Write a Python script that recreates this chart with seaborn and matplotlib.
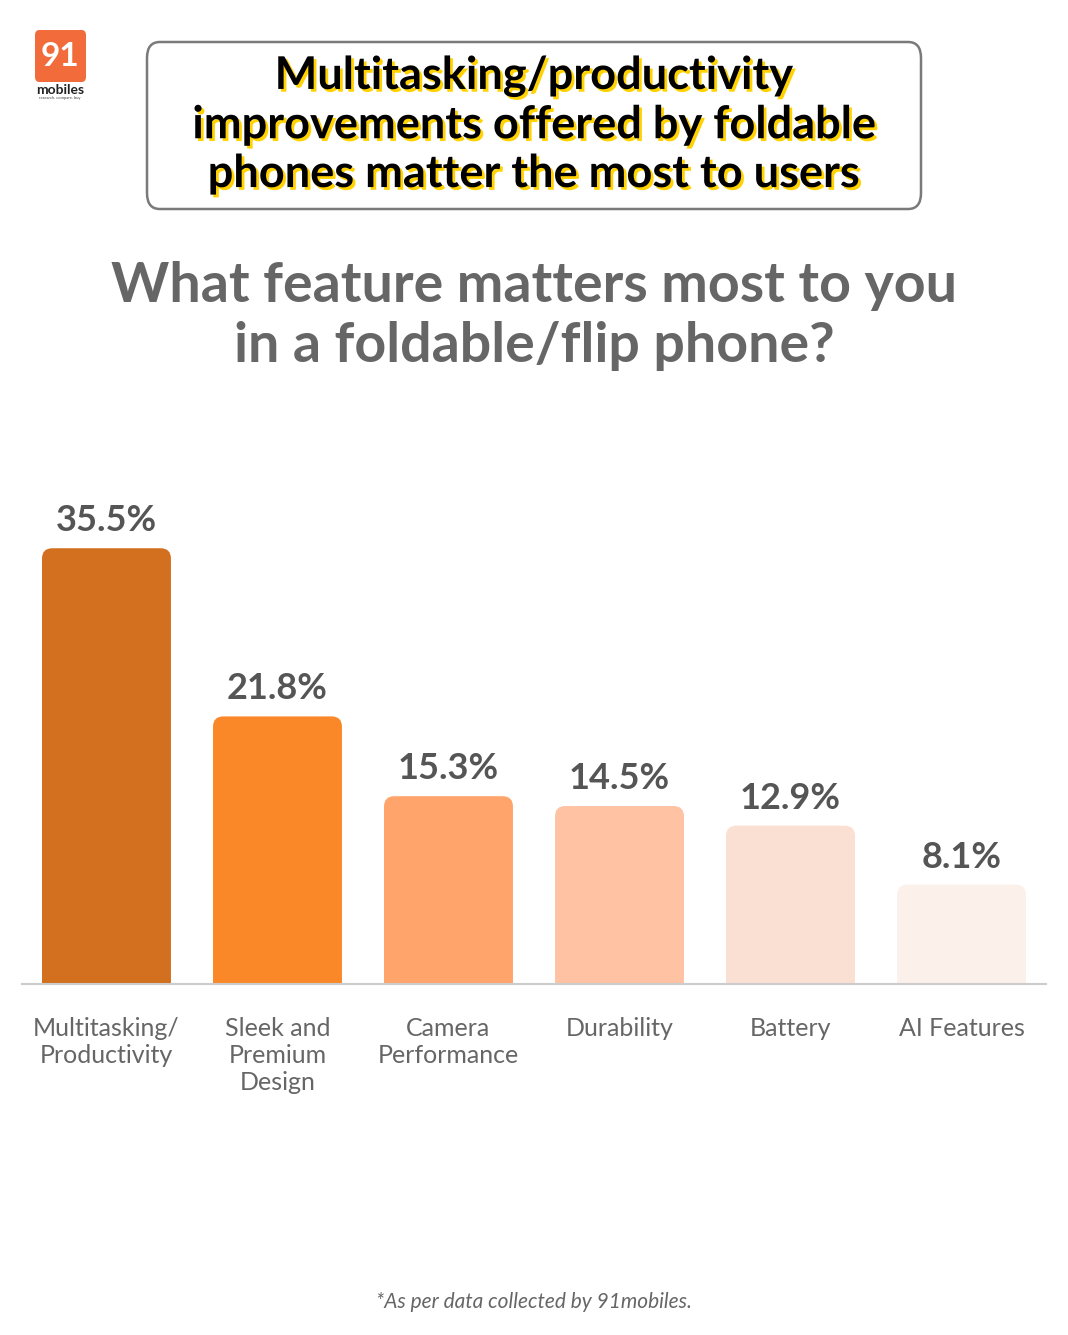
import matplotlib
matplotlib.use("Agg")
import matplotlib.pyplot as plt
import matplotlib.patheffects as pe
from matplotlib.patches import FancyBboxPatch
import seaborn as sns

# data
categories = ["Multitasking/\nProductivity", "Sleek and\nPremium\nDesign", "Camera\nPerformance",
              "Durability", "Battery", "AI Features"]
values = [35.5, 21.8, 15.3, 14.5, 12.9, 8.1]
bar_colors = ["#D2701F", "#FA8828", "#FFA46B", "#FFC2A3", "#FADFD3", "#FCF0EB"]

title = "Multitasking/productivity\nimprovements offered by foldable\nphones matter the most to users"
subtitle = "What feature matters most to you\nin a foldable/flip phone?"
footnote = "*As per data collected by 91mobiles."

sns.set_style("white")
plt.rcParams["font.family"] = ["Lato", "DejaVu Sans"]

fig = plt.figure(figsize=(10.68, 13.35), dpi=100)
ax = fig.add_axes([22 / 1068, (1335 - 984) / 1335, 1024 / 1068, 491 / 1335])

sns.barplot(x=categories, y=values, hue=categories, palette=bar_colors, legend=False,
            width=0.754, ax=ax, saturation=1)
ax.set_xlim(-0.494, 5.494)
ax.set_ylim(0, 40)

# rounded tops: replace the seaborn rectangles with rounded boxes of the same size
for bar, val in zip(ax.patches, values):
    x, w, h = bar.get_x(), bar.get_width(), bar.get_height()
    bar.set_visible(False)
    box = FancyBboxPatch((x, -3), w, h + 3, boxstyle="round,pad=0,rounding_size=0.06",
                         mutation_aspect=14, facecolor=bar.get_facecolor(),
                         edgecolor="none", clip_on=True)
    ax.add_patch(box)
    ax.text(x + w / 2, h + 0.9, f"{val:.1f}%", ha="center", va="bottom",
            fontsize=26, fontweight="bold", color="#555555")

for s in ["top", "right", "left"]:
    ax.spines[s].set_visible(False)
ax.spines["bottom"].set_color("#CCCCCC")
ax.spines["bottom"].set_linewidth(1.5)
ax.set_yticks([])
ax.set_xlabel("")
ax.set_ylabel("")
ax.tick_params(axis="x", length=0, pad=24, labelsize=18, labelcolor="#666666")
for lab in ax.get_xticklabels():
    lab.set_linespacing(1.2)

# title box
box = FancyBboxPatch((147 / 1068, 1 - 209 / 1335), 774 / 1068, 167 / 1335,
                     boxstyle="round,pad=0,rounding_size=0.012", transform=fig.transFigure,
                     facecolor="white", edgecolor="#7A7A7A", linewidth=1.8)
fig.patches.append(box)
fig.text(534 / 1068, 1 - 125 / 1335, title, ha="center", va="center", fontsize=32.5,
         fontweight="bold", color="black", linespacing=1.2,
         path_effects=[pe.withSimplePatchShadow(offset=(2, -2), shadow_rgbFace="#FFD200", alpha=1)])

fig.text(534 / 1068, 1 - 316 / 1335, subtitle, ha="center", va="center", fontsize=40,
         fontweight="bold", color="#666666", linespacing=1.25)

# logo
logo = FancyBboxPatch((35 / 1068, 1 - 82 / 1335), 51 / 1068, 52 / 1335,
                      boxstyle="round,pad=0,rounding_size=0.004", transform=fig.transFigure,
                      facecolor="#F26B3A", edgecolor="none")
fig.patches.append(logo)
fig.text(60 / 1068, 1 - 57 / 1335, "91", ha="center", va="center", fontsize=24,
         fontweight="bold", color="white")
fig.text(60 / 1068, 1 - 90 / 1335, "mobiles", ha="center", va="center", fontsize=10,
         fontweight="bold", color="#222222")
fig.text(60 / 1068, 1 - 98 / 1335, "research. compare. buy", ha="center", va="center",
         fontsize=3, color="#444444")

fig.text(534 / 1068, 1 - 1302 / 1335, footnote, ha="center", va="center", fontsize=15,
         style="italic", color="#666666")

fig.savefig("out.png", dpi=100, facecolor="white")
